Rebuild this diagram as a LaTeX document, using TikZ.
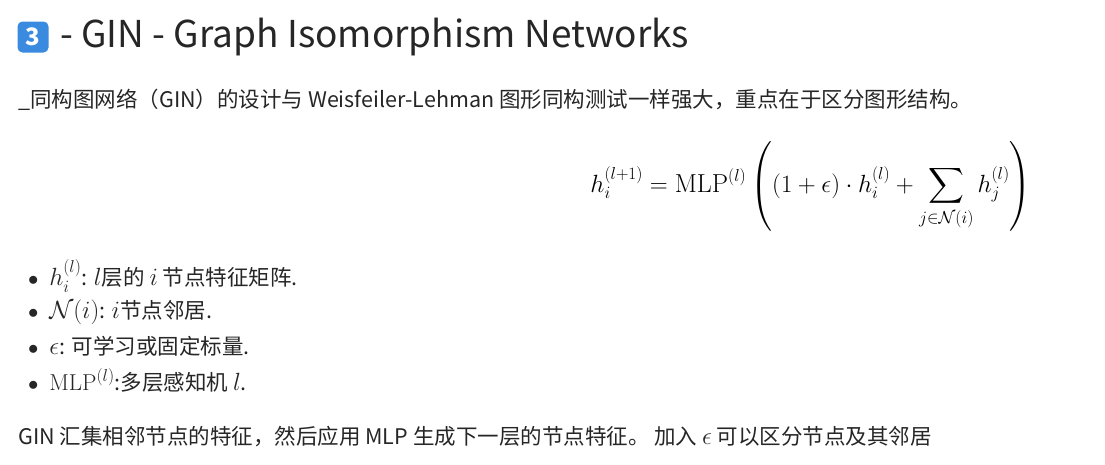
\documentclass[tikz,border=0pt]{standalone}
\usepackage{fontspec}
\usepackage{amsmath}
\setmainfont{Noto Sans CJK SC}
\newfontfamily\lmr{Latin Modern Roman}
\newcommand{\mlp}{\text{\lmr MLP}}
\definecolor{keyblue}{HTML}{3A8BE0}
\tikzset{txt/.style={anchor=west,inner sep=0pt,text=black!85,font=\fontsize{21.5}{24}\selectfont}}
\begin{document}
\begin{tikzpicture}[x=1pt,y=-1pt]
\useasboundingbox (0,0) rectangle (1105,464);
\fill[white] (0,0) rectangle (1105,464);
\node[draw=none,fill=keyblue,rounded corners=5pt,minimum size=31pt,inner sep=0pt,text=white,font=\fontsize{24}{26}\selectfont\bfseries] (key) at (33,37) {3};
\node[txt,font=\fontsize{37}{42}\selectfont] (title) at (60,37) {- GIN - Graph Isomorphism Networks};
\node[txt] (intro) at (18,100) {\_同构图网络（GIN）的设计与 Weisfeiler-Lehman 图形同构测试一样强大，重点在于区分图形结构。};
\node[anchor=center,inner sep=0pt,font=\fontsize{26}{30}\selectfont] (eq) at (811,186)
 {$\displaystyle h_i^{(l+1)}=\mlp^{(l)}\left((1+\epsilon)\cdot h_i^{(l)}+\sum_{j\in\mathcal{N}(i)}h_j^{(l)}\right)$};
\newcommand{\bm}[1]{{\fontsize{23}{26}\selectfont$#1$}}
\node[txt] (b1) at (28,276) {$\bullet$\enspace\bm{h_i^{(l)}}: \bm{l}层的 \bm{i} 节点特征矩阵.};
\node[txt] (b2) at (28,312) {$\bullet$\enspace\bm{\mathcal{N}(i)}: \bm{i}节点邻居.};
\node[txt] (b3) at (28,346) {$\bullet$\enspace\bm{\epsilon}: 可学习或固定标量.};
\node[txt] (b4) at (28,380) {$\bullet$\enspace\bm{\mlp^{(l)}}:多层感知机 \bm{l}.};
\node[txt] (last) at (18,437) {GIN 汇集相邻节点的特征，然后应用 MLP 生成下一层的节点特征。 加入 \bm{\epsilon} 可以区分节点及其邻居};
\end{tikzpicture}
\end{document}
